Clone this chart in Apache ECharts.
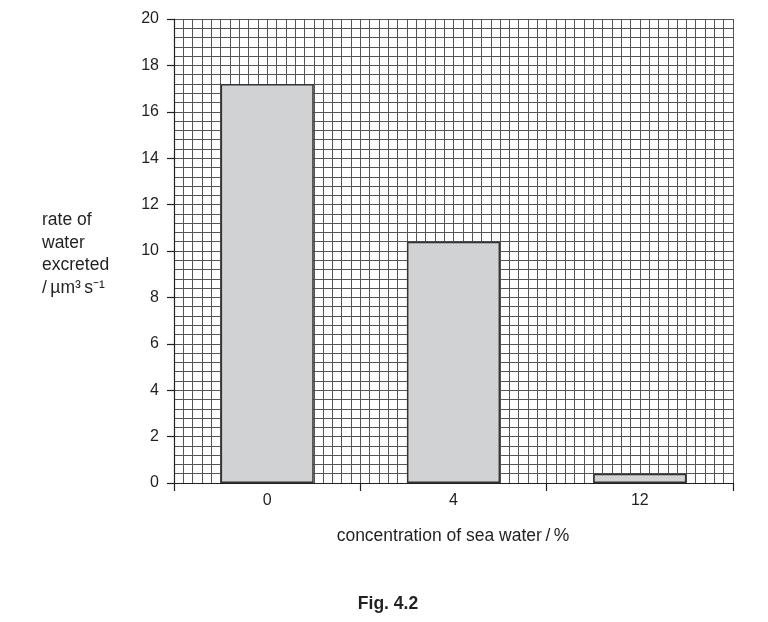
<!DOCTYPE html>
<html>
<head>
<meta charset="utf-8">
<script src="https://cdn.jsdelivr.net/npm/echarts@6/dist/echarts.min.js"></script>
<style>
html,body{margin:0;padding:0;background:#fff;}
#c{width:768px;height:622px;}
</style>
</head>
<body>
<div id="c"></div>
<script>
var categories = ['0', '4', '12'];
var rateValues = [17.2, 10.4, 0.4];
var yTicks = [0, 2, 4, 6, 8, 10, 12, 14, 16, 18, 20];
var xAxisTitle = 'concentration of sea water\u2009/\u2009%';
var yAxisTitle = 'rate of\nwater\nexcreted\n/\u2009\u00b5m\u00b3\u2009s\u207b\u00b9';
var figCaption = 'Fig. 4.2';

var FONT = '"Liberation Sans", Arial, sans-serif';
var TXT = '#231f20';
var chart = echarts.init(document.getElementById('c'), null, {renderer: 'canvas'});
chart.setOption({
  animation: false,
  backgroundColor: '#ffffff',
  grid: {left: 174, right: 35, top: 19, bottom: 139, containLabel: false},
  title: [
    {text: yAxisTitle, left: 37, top: 204,
     textStyle: {fontFamily: FONT, fontSize: 17.5, fontWeight: 'normal', color: TXT, lineHeight: 22.5}},
    {text: xAxisTitle, left: 448, top: 522, textAlign: 'center',
     textStyle: {fontFamily: FONT, fontSize: 17.5, fontWeight: 'normal', color: TXT}},
    {text: figCaption, left: 383, top: 590, textAlign: 'center',
     textStyle: {fontFamily: FONT, fontSize: 17.5, fontWeight: 'bold', color: TXT}}
  ],
  xAxis: [
    {type: 'category', data: categories, boundaryGap: true,
     axisLine: {show: true, lineStyle: {color: '#231f20', width: 1.2}},
     axisTick: {show: true, interval: 0, length: 8, lineStyle: {color: '#231f20', width: 1.2}},
     axisLabel: {fontFamily: FONT, fontSize: 16, color: TXT, margin: 10},
     splitLine: {show: false}, z: 5},
    {type: 'value', min: 0, max: 60, interval: 1, position: 'top',
     axisLine: {show: false}, axisTick: {show: false}, axisLabel: {show: false},
     splitLine: {show: true, lineStyle: {color: '#555555', width: 1}}}
  ],
  yAxis: {
    type: 'value', min: 0, max: 20, interval: 2,
    axisLine: {show: true, lineStyle: {color: '#231f20', width: 1.2}},
    axisTick: {show: true, inside: false, length: 7, lineStyle: {color: '#231f20', width: 1.2}},
    axisLabel: {fontFamily: FONT, fontSize: 16, color: TXT, margin: 15,
      formatter: function (v) { return yTicks.indexOf(v) >= 0 ? String(v) : ''; }},
    splitLine: {show: true, lineStyle: {color: '#555555', width: 1}},
    minorTick: {show: false, splitNumber: 5},
    minorSplitLine: {show: true, lineStyle: {color: '#555555', width: 1}}
  },
  series: [{
    type: 'bar', xAxisIndex: 0, data: rateValues, barWidth: '50%',
    itemStyle: {color: '#d1d2d4', borderColor: '#333333', borderWidth: 1.5},
    z: 3
  }]
});
</script>
</body>
</html>
